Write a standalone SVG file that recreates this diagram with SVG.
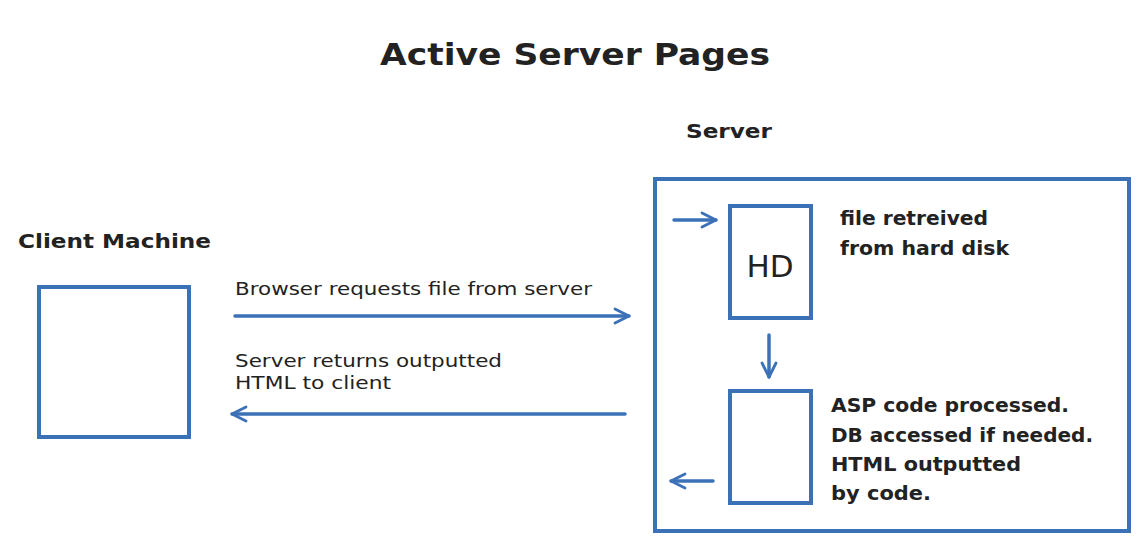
<svg xmlns="http://www.w3.org/2000/svg" width="1143" height="551" viewBox="0 0 1143 551">
<style>
.b{fill:none;stroke:#3b71b6;stroke-width:4}
.c{fill:none;stroke:#3b71b6;stroke-width:3.5;stroke-linecap:round;stroke-linejoin:round}
text{font-family:"DejaVu Sans","Liberation Sans",sans-serif;fill:#222}
.s{font-size:19px;font-weight:bold}
.l{font-size:17px}
</style>
<defs><marker id="a" viewBox="0 0 10 10" refX="9" refY="5" markerWidth="5" markerHeight="5" orient="auto" markerUnits="strokeWidth"><path d="M1 1 L9 5 L1 9" fill="none" stroke="#3b71b6" stroke-width="1.6" stroke-linecap="round" stroke-linejoin="round"/></marker></defs>
<rect width="1143" height="551" fill="#fff"/>
<text x="380" y="65" textLength="390" lengthAdjust="spacingAndGlyphs" style="font-size:31px;font-weight:bold">Active Server Pages</text>
<g id="client"><text class="s" x="18" y="248" textLength="193" lengthAdjust="spacingAndGlyphs">Client Machine</text><rect class="b" x="39" y="287" width="150" height="150"/></g>
<g id="server"><text class="s" x="686" y="138" textLength="86" lengthAdjust="spacingAndGlyphs">Server</text><rect class="b" x="655" y="179" width="474" height="352"/></g>
<g id="hd"><rect class="b" x="730" y="206" width="81" height="112"/><text x="770" y="277" text-anchor="middle" style="font-size:31px">HD</text>
<text class="s" x="840" y="225" textLength="148" lengthAdjust="spacingAndGlyphs">file retreived</text><text class="s" x="840" y="255" textLength="169" lengthAdjust="spacingAndGlyphs">from hard disk</text></g>
<g id="asp"><rect class="b" x="730" y="391" width="81" height="112"/>
<text class="s" x="831" y="412" textLength="238" lengthAdjust="spacingAndGlyphs">ASP code processed.</text><text class="s" x="831" y="442" textLength="262" lengthAdjust="spacingAndGlyphs">DB accessed if needed.</text><text class="s" x="831" y="471" textLength="190" lengthAdjust="spacingAndGlyphs">HTML outputted</text><text class="s" x="831" y="500" textLength="100" lengthAdjust="spacingAndGlyphs">by code.</text></g>
<g id="connectors">
<line class="c" x1="235" y1="316" x2="629" y2="316" marker-end="url(#a)"/>
<text class="l" x="235" y="295" textLength="357" lengthAdjust="spacingAndGlyphs">Browser requests file from server</text>
<line class="c" x1="625" y1="414" x2="232" y2="414" marker-end="url(#a)"/>
<text class="l" x="235" y="367" textLength="267" lengthAdjust="spacingAndGlyphs">Server returns outputted</text><text class="l" x="235" y="389" textLength="156" lengthAdjust="spacingAndGlyphs">HTML to client</text>
<line class="c" x1="674" y1="220" x2="716" y2="220" marker-end="url(#a)"/>
<line class="c" x1="769" y1="335" x2="769" y2="377" marker-end="url(#a)"/>
<line class="c" x1="713" y1="481" x2="671" y2="481" marker-end="url(#a)"/>
</g>
</svg>
